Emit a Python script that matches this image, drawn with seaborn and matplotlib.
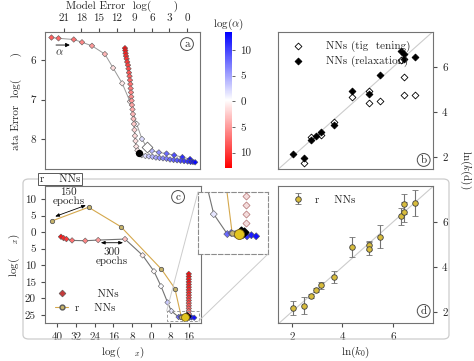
import numpy as np
import pandas as pd
import matplotlib.pyplot as plt
import seaborn as sns
from matplotlib.colors import Normalize
from matplotlib.cm import ScalarMappable
from matplotlib.patches import FancyBboxPatch, Rectangle, ConnectionPatch
from matplotlib.lines import Line2D

# ---- panel (a): error landscape, two paths coloured by log(alpha)
a1_model = [23.1, 21.9, 19.3, 17.9, 16.2, 14.0, 12.6, 11.05, 9.73, 8.59, 7.68, 6.88, 6.0, 4.8, 3.5, 2.2, 0.8, -0.5]
a1_data = [5.43, 5.45, 5.48, 5.55, 5.64, 5.85, 6.20, 6.59, 7.05, 7.62, 8.00, 8.21, 8.30, 8.34, 8.37, 8.41, 8.46, 8.51]
a1_alpha = [-8, -7.5, -7, -6, -5, -3.5, -1.5, -0.8, -0.5, 0.5, 2, 0, 4, 6, 8, 9.5, 11, 12.5]

a2_model = [10.58, 10.52, 10.47, 10.40, 10.30, 10.20, 10.07, 9.98, 9.90, 9.80, 9.73, 9.66, 9.61,
            9.55, 9.51, 9.45, 9.39, 9.30, 9.22, 9.13, 9.05, 8.96, 8.88, 8.78, 8.66, 8.45, 8.25,
            7.73, 7.1, 6.5, 5.9, 5.3, 4.7, 4.1, 3.5, 2.9, 2.3, 1.7, 1.1, 0.5, -0.1, -0.6, -1.0, -1.37]
a2_data = [5.70, 5.76, 5.83, 5.90, 5.97, 6.05, 6.13, 6.22, 6.32, 6.41, 6.51, 6.61, 6.72,
           6.82, 6.93, 7.03, 7.14, 7.25, 7.37, 7.49, 7.62, 7.77, 7.92, 8.05, 8.19, 8.29, 8.36,
           8.41, 8.43, 8.44, 8.45, 8.47, 8.48, 8.49, 8.50, 8.52, 8.53, 8.54, 8.55, 8.56, 8.57, 8.58, 8.58, 8.59]
a2_alpha = [-12.5, -12, -11.5, -11, -10.5, -10, -9.5, -9, -8.5, -8, -7.5, -7, -6.5,
            -6, -5.5, -5, -4.5, -4, -3.5, -3, -2.5, -2, -1.7, -1.4, -1.1, -0.8, 0,
            1, 2, 3, 4, 5, 6, 6.5, 7, 8, 8.5, 9, 10, 10.5, 11, 12, 12.5, 13]
a_best_model, a_best_data = [8.25], [8.36]
a_square_model, a_square_data = [6.88], [8.21]

# ---- panel (b)
b_k0_tight = [2.46, 2.75, 3.16, 3.67, 4.37, 5.06, 5.06, 5.48, 6.32, 6.45, 6.45, 6.87]
b_k_tight = [1.72, 2.89, 2.99, 3.54, 4.67, 4.93, 4.39, 4.50, 6.31, 5.57, 4.77, 4.76]
b_k0_relax = [2.05, 2.46, 2.75, 2.97, 3.16, 3.67, 4.37, 5.06, 5.48, 6.32, 6.45, 6.45, 6.87]
b_k_relax = [2.13, 1.94, 2.76, 2.93, 3.11, 3.41, 4.93, 4.79, 5.67, 6.72, 6.56, 6.34, 6.43]

# ---- panel (c)
c_our_x = [42.0, 26.6, 12.8, -4.4, -10.1, -12.8, -14.4]
c_our_y = [-3.4, -7.5, -1.6, 11.2, 17.0, 25.5, 25.6]
c_nn_x = [38.3, 37.2, 36.0, 33.6, 28.0, 22.5, 11.1, 3.6, -1.2, -4.2, -7.0, -8.6,
          -11.7, -12.6, -13.5, -14.4, -15.3, -16.2, -17.2, -18.3]
c_nn_y = [1.4, 1.8, 2.1, 2.5, 2.6, 2.4, 2.1, 7.0, 11.8, 16.3, 21.2, 23.8,
          25.6, 25.5, 25.6, 25.7, 25.7, 25.8, 25.7, 25.8]
c_nn_alpha = [-12, -11, -10, -7, -6, -5, -3, -0.5, 0, 0.5, 3, 1.5, 8, 9, 10, 10, 11, 11, 12, 12.5]
c_stack_x = [-16.0] * 16
c_stack_y = [12.6, 13.4, 14.2, 15.0, 15.8, 16.6, 17.4, 18.2, 19.0, 19.8, 20.6, 21.4, 22.2, 23.0, 23.8, 24.6]
c_stack_alpha = [-12.5, -12.5, -12, -12, -11.5, -11.5, -11, -11, -10.5, -10, -9.5, -9, -8.5, -8, -7, -6]
c_black_x, c_black_y = [-14.9, -15.4], [25.3, 25.4]

# ---- panel (d)
d_k0 = [2.05, 2.46, 2.75, 2.97, 3.16, 3.67, 4.37, 5.06, 5.06, 5.48, 6.32, 6.45, 6.45, 6.87]
d_k = [2.15, 2.27, 2.71, 2.98, 3.17, 3.56, 4.90, 4.96, 4.81, 5.35, 6.25, 6.79, 6.45, 6.83]
d_err = [0.31, 0.37, 0.08, 0.08, 0.17, 0.26, 0.44, 0.2, 0.3, 0.51, 0.39, 0.45, 0.45, 0.58]

sns.set_style('ticks')
plt.rcParams['font.family'] = ['cmr10', 'DejaVu Serif']
plt.rcParams['mathtext.fontset'] = 'cm'
plt.rcParams['axes.unicode_minus'] = False
plt.rcParams['font.size'] = 8
plt.rcParams['axes.edgecolor'] = '0.45'
plt.rcParams['axes.linewidth'] = 0.8
plt.rcParams['xtick.color'] = '0.3'
plt.rcParams['ytick.color'] = '0.3'
plt.rcParams['xtick.major.size'] = 3
plt.rcParams['ytick.major.size'] = 3
plt.rcParams['xtick.labelcolor'] = '0.15'
plt.rcParams['ytick.labelcolor'] = '0.15'

W, H = 474, 361
fig = plt.figure(figsize=(W / 100, H / 100), dpi=100)


def box(x0, y0, x1, y1):
    # pixel box (top-left origin) -> figure fraction
    return [x0 / W, 1 - y1 / H, (x1 - x0) / W, (y1 - y0) / H]


norm = Normalize(-13, 13.5)
cmap = 'bwr_r'
yellow = '#d8bc3c'
tan = '#d5a84c'


def circ_label(ax, x, y, s):
    ax.text(x, y, s, transform=ax.transAxes, ha='center', va='center', fontsize=8,
            bbox=dict(boxstyle='circle,pad=0.15', fc='white', ec='0.3', lw=0.7))


def colored(ax, x, y, a, s=8, z=3):
    sns.scatterplot(x=x, y=y, hue=a, palette=cmap, hue_norm=norm, marker='D', s=s,
                    edgecolor='0.35', linewidth=0.4, legend=False, ax=ax, zorder=z)


# ---------- (a)
ax_a = fig.add_axes(box(45, 32, 200, 169))
sns.lineplot(x=a1_model, y=a1_data, sort=False, estimator=None, color='0.6', lw=0.7, ax=ax_a)
sns.lineplot(x=a2_model, y=a2_data, sort=False, estimator=None, color='0.6', lw=0.7, ax=ax_a)
colored(ax_a, a1_model, a1_data, a1_alpha)
colored(ax_a, a2_model, a2_data, a2_alpha)
ax_a.scatter(a_square_model, a_square_data, marker='D', s=30, fc='white', ec='0.4', lw=0.6, zorder=4)
ax_a.scatter(a_best_model, a_best_data, marker='o', s=18, fc='black', ec='black', zorder=5)
ax_a.set_xlim(24.2, -2.2)
ax_a.set_ylim(8.76, 5.29)
ax_a.xaxis.tick_top()
ax_a.xaxis.set_label_position('top')
ax_a.set_xticks([21, 18, 15, 12, 9, 6, 3, 0])
ax_a.set_yticks([6, 7, 8])
ax_a.set_xlabel('Model Error  log(      )', labelpad=3)
ax_a.set_ylabel('ata Error  log(      )', labelpad=6)
ax_a.annotate('', xy=(19.5, 5.62), xytext=(22.8, 5.62),
              arrowprops=dict(arrowstyle='-|>,head_length=0.3,head_width=0.15', color='black', lw=0.6))
ax_a.text(21.7, 5.8, r'$\alpha$', ha='center', va='center', fontsize=8)
circ_label(ax_a, 0.916, 0.912, 'a')

# colorbar
cax = fig.add_axes(box(225, 32, 232, 168))
cb = fig.colorbar(ScalarMappable(norm=norm, cmap=cmap), cax=cax)
cb.outline.set_visible(False)
cb.set_ticks([-10, -5, 0, 5, 10])
cb.set_ticklabels(['10', '5', '0', '5', '10'])
cax.tick_params(length=2.5, width=0.6)
cax.set_title(r'log($\alpha$)', fontsize=8, pad=4)

# ---------- (b)
ax_b = fig.add_axes(box(278, 32, 433, 169))
lims = (1.45, 7.58)
ax_b.plot(lims, lims, color='0.8', lw=0.8, zorder=1)
sns.scatterplot(x=b_k0_tight, y=b_k_tight, marker='D', s=12, color='white', edgecolor='black',
                linewidth=0.6, ax=ax_b, zorder=3, label='NNs (tig  tening)')
sns.scatterplot(x=b_k0_relax, y=b_k_relax, marker='D', s=12, color='black', edgecolor='black',
                linewidth=0.6, ax=ax_b, zorder=3, label='NNs (relaxation)')
ax_b.set_xlim(lims)
ax_b.set_ylim(1.47, 7.56)
ax_b.set_xticks([])
ax_b.yaxis.tick_right()
ax_b.set_yticks([2, 4, 6])
ax_b.legend(loc='upper left', frameon=False, fontsize=8, handletextpad=1.5, borderaxespad=0.4,
            labelspacing=0.3)
circ_label(ax_b, 0.94, 0.066, 'b')

# ---------- frame around (c) and (d)
fig.patches.append(FancyBboxPatch((23 / W, 1 - 339 / H), 426 / W, 160 / H,
                                  boxstyle='round,pad=0,rounding_size=0.012',
                                  transform=fig.transFigure, fc='none', ec='0.8', lw=0.9))
fig.text(60 / W, 1 - 179 / H, 'r    NNs', ha='center', va='center', fontsize=8,
         bbox=dict(boxstyle='square,pad=0.12', fc='white', ec='0.35', lw=0.7))

# ---------- (c)
ax_c = fig.add_axes(box(45, 186, 201, 323))
ax_in = fig.add_axes(box(198, 192, 268, 254))
for ax, big in [(ax_c, False), (ax_in, True)]:
    ms = 13 if big else 8
    sns.lineplot(x=c_our_x, y=c_our_y, sort=False, estimator=None, color=tan, lw=0.8, ax=ax)
    sns.lineplot(x=c_nn_x, y=c_nn_y, sort=False, estimator=None, color='0.45', lw=0.8, ax=ax)
    if big:
        # stack looks pale and hollow once zoomed in
        sns.scatterplot(x=c_stack_x, y=c_stack_y, marker='D', s=ms, color='#f4dcdc',
                        edgecolor='#b07070', linewidth=0.5, ax=ax, zorder=3)
    else:
        colored(ax, c_stack_x, c_stack_y, c_stack_alpha, s=ms)
    colored(ax, c_nn_x, c_nn_y, c_nn_alpha, s=ms)
    ax.scatter(c_black_x, c_black_y, marker='D', s=ms * 1.5, fc='black', ec='black', zorder=4)
    ax.scatter(c_our_x[:-1], c_our_y[:-1], marker='o', s=ms * 1.2, fc='#c8b46a', ec='0.35', lw=0.6, zorder=4)
    ax.scatter(c_our_x[-1:], c_our_y[-1:], marker='o', s=ms * 4, fc='#e2c41e', ec='#7a6010', lw=0.6, zorder=5)

ax_c.set_xlim(45.1, -21.2)
ax_c.set_ylim(27.4, -13.9)
ax_c.set_xticks([40, 32, 24, 16, 8, 0, -8, -16])
ax_c.set_xticklabels(['40', '32', '24', '16', '8', '0', '8', '16'])
ax_c.set_yticks([-10, -5, 0, 5, 10, 15, 20, 25])
ax_c.set_yticklabels(['10', '5', '0', '5', '10', '15', '20', '25'])
ax_c.set_xlabel(r'log(    $_x$)', labelpad=2)
ax_c.set_ylabel(r'log(    $_x$)', labelpad=2)
arw = dict(arrowstyle='<|-|>,head_length=0.3,head_width=0.12', color='black', lw=0.6,
           shrinkA=0, shrinkB=0)
ax_c.annotate('', xy=(27.7, -8.1), xytext=(40.8, -4.7), arrowprops=arw)
ax_c.text(35.0, -10.6, '150\nepochs', ha='center', va='center', fontsize=8, linespacing=0.95)
ax_c.annotate('', xy=(11.9, 3.2), xytext=(21.4, 3.2), arrowprops=arw)
ax_c.text(16.6, 7.3, '300\nepochs', ha='center', va='center', fontsize=8, linespacing=0.95)
handles = [Line2D([], [], marker='D', ls='', ms=3.5, mfc='#c43a3a', mec='0.3', mew=0.4),
           Line2D([], [], marker='o', ls='-', color=tan, lw=0.8, ms=3.5, mfc='#c8b46a', mec='0.35')]
ax_c.legend(handles, ['      NNs', 'r    NNs'], loc='lower left', frameon=False, fontsize=8,
            handlelength=1.2, handletextpad=0.6, borderaxespad=0.5, labelspacing=0.4)
circ_label(ax_c, 0.853, 0.92, 'c')

# inset
ax_in.set_xlim(-5.0, -21.0)
ax_in.set_ylim(27.4, 21.8)
ax_in.set_xticks([])
ax_in.set_yticks([])
ax_in.set_xlabel('')
ax_in.set_ylabel('')
for sp in ax_in.spines.values():
    sp.set_linestyle((0, (4, 2)))
    sp.set_color('0.55')
    sp.set_linewidth(0.8)
ax_c.add_patch(Rectangle((-6.6, 23.8), -13.6, 3.0, fill=False, ec='0.6', lw=0.7,
                         ls=(0, (3, 2)), zorder=6))
for xy_c, xy_in in [((-6.6, 23.8), (0, 1)), ((-20.2, 26.8), (1, 0))]:
    con = ConnectionPatch(xyA=xy_c, coordsA=ax_c.transData, xyB=xy_in, coordsB=ax_in.transAxes,
                          color='0.8', lw=0.7)
    fig.add_artist(con)

# ---------- (d)
ax_d = fig.add_axes(box(278, 186, 433, 323))
ax_d.plot(lims, lims, color='0.8', lw=0.8, zorder=1)
ax_d.errorbar(d_k0, d_k, yerr=d_err, fmt='o', ms=4, mfc=yellow, mec='0.25', mew=0.6,
              ecolor='0.45', elinewidth=0.8, capsize=2, capthick=0.7, label='r    NNs', zorder=3)
ax_d.set_xlim(lims)
ax_d.set_ylim(1.5, 7.6)
ax_d.set_xticks([2, 4, 6])
ax_d.yaxis.tick_right()
ax_d.set_yticks([2, 4, 6])
ax_d.set_xlabel(r'ln($k_0$)', labelpad=2)
ax_d.legend(loc='upper left', frameon=False, fontsize=8, handletextpad=0.5, borderaxespad=0.4)
circ_label(ax_d, 0.94, 0.088, 'd')

fig.text(466 / W, 1 - 170 / H, r'ln($k$(d))', rotation=-90, ha='center', va='center', fontsize=8)

fig.savefig('out.png', dpi=100)
